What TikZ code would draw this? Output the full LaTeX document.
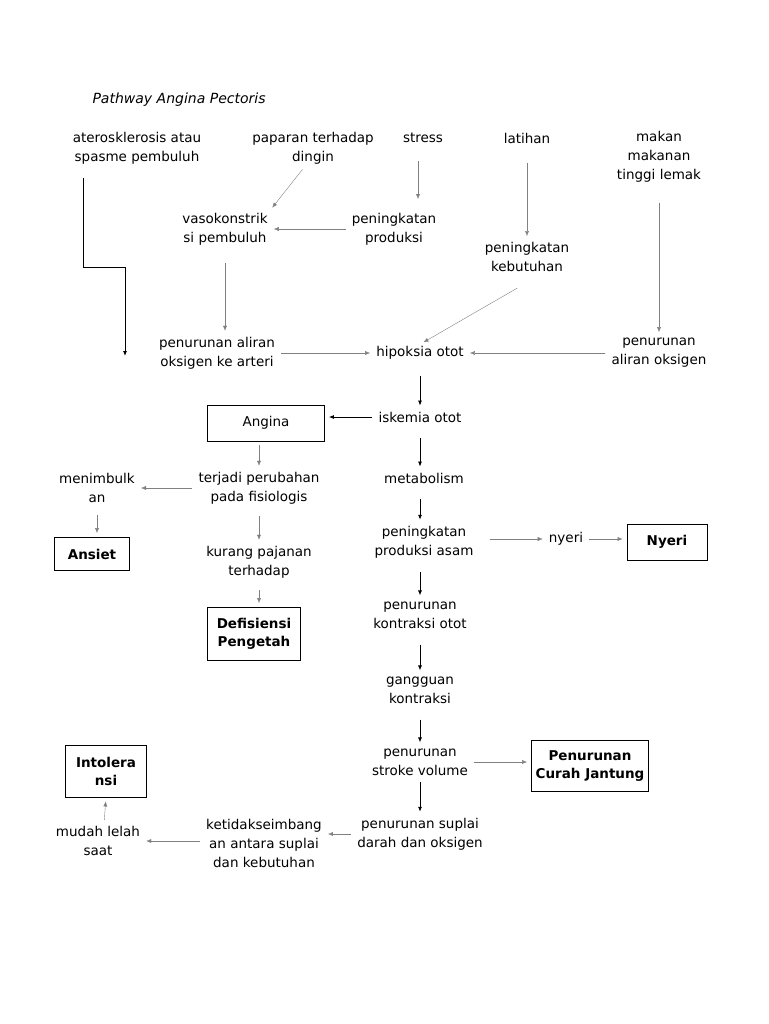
\documentclass[tikz,border=0pt]{standalone}
\usepackage{fontspec}
\setmainfont{DejaVu Sans}
\usetikzlibrary{arrows.meta}

\tikzset{
  txt/.style={align=center, font=\fontsize{13.5}{19}\selectfont, inner sep=2pt},
  box/.style={draw, thick, align=center, font=\fontsize{13.5}{18}\selectfont\bfseries},
  thin arr/.style={-{Latex[length=5pt,width=4pt]}, gray, thin, shorten >=4pt, shorten <=4pt},
  bold arr/.style={-{Latex[length=5pt,width=4pt]}, black, thick, shorten >=4pt, shorten <=4pt}
}

\begin{document}
\begin{tikzpicture}[x=1pt, y=-1pt]
  \useasboundingbox (0,0) rectangle (768,1024);

  \node[anchor=west, font=\fontsize{14}{16}\selectfont\itshape] (title) at (89,100) {Pathway Angina Pectoris};

  % top row
  \node[txt] (athero) at (137,148) {aterosklerosis atau\\spasme pembuluh};
  \node[txt] (dingin) at (313,148) {paparan terhadap\\dingin};
  \node[txt] (stress) at (423,138) {stress};
  \node[txt] (latihan) at (527,138) {latihan};
  \node[txt] (makan) at (659,157) {makan\\makanan\\tinggi lemak};

  \node[txt] (vaso) at (225,229) {vasokonstrik\\si pembuluh};
  \node[txt] (prod) at (394,229) {peningkatan\\produksi};
  \node[txt] (butuh) at (527,257) {peningkatan\\kebutuhan};

  \node[txt] (aliran) at (217,353) {penurunan aliran\\oksigen ke arteri};
  \node[txt] (hipoksia) at (420,353) {hipoksia otot};
  \node[txt] (aliran2) at (659,353) {penurunan\\aliran oksigen};

  % middle
  \node[box, font=\fontsize{13.5}{18}\selectfont, minimum width=117, minimum height=36] (angina) at (266,423) {Angina};
  \node[txt] (iskemia) at (420,417) {iskemia otot};
  \node[txt] (timbul) at (97,488) {menimbulk\\an};
  \node[txt] (ubah) at (259,488) {terjadi perubahan\\pada fisiologis};
  \node[txt] (metab) at (424,478) {metabolism};
  \node[box, minimum width=75, minimum height=33] (ansiet) at (92,554) {Ansiet};
  \node[txt] (pajanan) at (259,562) {kurang pajanan\\terhadap};
  \node[txt] (asam) at (424,542) {peningkatan\\produksi asam};
  \node[txt] (nyeri) at (566,539) {nyeri};
  \node[box, minimum width=80, minimum height=36] (akut) at (667,542) {Nyeri};
  \node[box, minimum width=93, minimum height=53] (defisiensi) at (254,634) {Defisiensi\\Pengetah};
  \node[txt] (kontraksi) at (420,615) {penurunan\\kontraksi otot};
  \node[txt] (gangguan) at (420,690) {gangguan\\kontraksi};

  % bottom
  \node[box, minimum width=81, minimum height=52] (intol) at (106,771) {Intolera\\nsi};
  \node[txt] (stroke) at (420,762) {penurunan\\stroke volume};
  \node[box, minimum width=117, minimum height=51] (curah) at (590,766) {Penurunan\\Curah Jantung};
  \node[txt] (lelah) at (98,841) {mudah lelah\\saat};
  \node[txt] (imbang) at (264,843) {ketidakseimbang\\an antara suplai\\dan kebutuhan};
  \node[txt] (suplai) at (420,834) {penurunan suplai\\darah dan oksigen};

  \coordinate (bend1) at (83,267);
  \coordinate (bend2) at (125,267);
  \coordinate (athend) at (125,356);

  % connectors
  \draw[thick] (83,178) -- (bend1) -- (bend2);
  \draw[-{Latex[length=5pt,width=4pt]}, thick] (bend2) -- (athend);
  \draw[thin arr] (dingin.south) ++(-8,0) -- (vaso.north east);
  \draw[thin arr] (stress.south) ++(-5,12) -- ++(0,46);
  \draw[thin arr] (prod.west) -- (vaso.east);
  \draw[thin arr] (latihan.south) ++(0,14) -- (butuh.north);
  \draw[thin arr] (vaso.south) ++(0,12) -- (aliran.north -| vaso.south);
  \draw[thin arr] (aliran.east) -- (hipoksia.west);
  \draw[thin arr] (butuh.south) ++(-6,12) -- (hipoksia.north);
  \draw[thin arr] (makan.south) ++(0,14) -- (aliran2.north -| makan.south);
  \draw[thin arr] (aliran2.west) -- (hipoksia.east);
  \draw[bold arr] (hipoksia.south) ++(0,10) -- (iskemia.north);
  \draw[bold arr] (iskemia.west) -- (angina.east |- iskemia.west);
  \draw[thin arr] (angina.south -| ubah.north) -- (ubah.north);
  \draw[thin arr] (ubah.west) -- (timbul.east);
  \draw[thin arr] (timbul.south) ++(0,6) -- (ansiet.north -| timbul.south);
  \draw[thin arr] (ubah.south) ++(0,6) -- (pajanan.north);
  \draw[thin arr] (pajanan.south) ++(0,6) -- (defisiensi.north -| pajanan.south);
  \draw[bold arr] (iskemia.south) ++(0,10) -- (metab.north -| iskemia.south);
  \draw[bold arr] (metab.south -| iskemia.south) ++(0,10) -- (asam.north -| iskemia.south);
  \draw[thin arr] (asam.east) ++(10,-3) -- (nyeri.west);
  \draw[thin arr] (nyeri.east) -- (akut.west |- nyeri.east);
  \draw[bold arr] (asam.south -| iskemia.south) ++(0,8) -- (kontraksi.north);
  \draw[bold arr] (kontraksi.south) ++(0,10) -- (gangguan.north);
  \draw[bold arr] (gangguan.south) ++(0,10) -- (stroke.north);
  \draw[thin arr] (stroke.east) -- (curah.west |- stroke.east);
  \draw[bold arr] (stroke.south) -- (suplai.north);
  \draw[thin arr] (suplai.west) -- (suplai.west -| imbang.east);
  \draw[thin arr] (imbang.west |- lelah.east) -- (lelah.east);
  \draw[thin arr] (lelah.north) ++(6,0) -- (intol.south);
\end{tikzpicture}
\end{document}
